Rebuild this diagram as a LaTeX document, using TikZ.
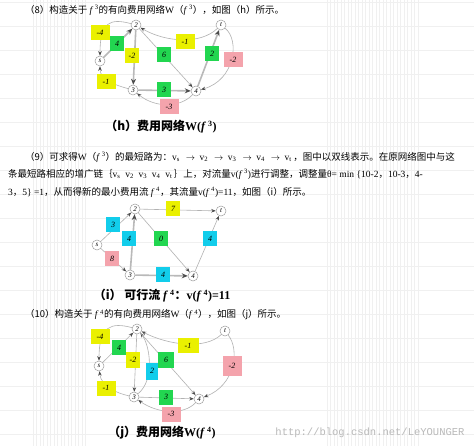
\documentclass[tikz,border=0pt]{standalone}
\usepackage{fontspec}
\setmainfont{Liberation Serif}
\newfontfamily\cjk{Noto Sans CJK SC}
\newfontfamily\wmfont{Liberation Mono}
\usetikzlibrary{arrows.meta}
\definecolor{yelc}{HTML}{EAF000}
\definecolor{grnc}{HTML}{22D650}
\definecolor{cyac}{HTML}{12CDEB}
\definecolor{pnkc}{HTML}{F4A3AC}
\newcommand\ff[1]{\textit{f}\,\textsuperscript{#1}}
\newcommand\rarr{\hspace{6pt}$\rightarrow$\hspace{4.5pt}}
\begin{document}
\begin{tikzpicture}[x=1pt,y=-1pt,
  vtx/.style={circle,draw=gray!75,fill=white,line width=0.5pt,inner sep=0pt,minimum size=10pt,font=\fontsize{7}{7}\selectfont\itshape},
  lbl/.style={rectangle,inner sep=0pt,minimum width=14pt,minimum height=15pt,font=\fontsize{8}{8}\selectfont\itshape},
  yel/.style={lbl,fill=yelc},
  grn/.style={lbl,fill=grnc},
  cya/.style={lbl,fill=cyac},
  pnk/.style={lbl,fill=pnkc},
  wide/.style={minimum width=19pt},
  arc/.style={draw=gray!60,line width=0.6pt,-{Stealth[length=4.5pt,width=3.5pt,color=black!70]}},
  thk/.style={draw=gray!55,line width=1.6pt,-{Stealth[length=6pt,width=5pt,color=black!70]}},
  body/.style={anchor=west,inner sep=0pt,font=\fontsize{9.5}{11}\selectfont},
  captxt/.style={inner sep=0pt,font=\fontsize{12}{14}\selectfont\bfseries},
  bgline/.style={draw=gray!12,line width=0.3pt}
]
\useasboundingbox (0,0) rectangle (474,446);
\fill[white] (0,0) rectangle (474,446);
% faint background paper texture
\foreach \yy in {2,26,...,446} \draw[bgline] (0,\yy) -- (474,\yy);
\foreach \xx in {33,36.5,...,88} \draw[bgline] (\xx,0) -- (\xx,446);
\foreach \xx in {327,330.5,...,420} \draw[bgline] (\xx,0) -- (\xx,446);

% ---------- text (8)
\node[body] (t8) at (25,10) {{\cjk （8）构造关于 }\ff3{\cjk 的有向费用网络}W{\cjk （}\ff3{\cjk ），如图（h）所示。}};

% ---------- figure h
\node[vtx] (h2) at (136,25) {2};
\node[vtx] (ht) at (221,25) {t};
\node[vtx] (hs) at (100,61) {s};
\node[vtx] (h3) at (133,90) {3};
\node[vtx] (h4) at (196,91) {4};
\draw[arc] (h2) .. controls (110,18) and (100,22) .. (hs);
\draw[thk] (hs) -- (h2);
\draw[thk] (h2) -- (h3);
\draw[arc] (h2) -- (h4);
\draw[arc] (ht) .. controls (200,45) and (165,42) .. (h2);
\draw[thk] (h4) -- (ht);
\draw[arc] (ht) .. controls (240,40) and (235,80) .. (h4);
\draw[arc] (h3) .. controls (115,85) and (100,80) .. (hs);
\draw[thk] (h3) -- (h4);
\draw[arc] (h4) .. controls (180,108) and (155,108) .. (h3);
\node[yel,wide] (hl1) at (100,33) {-4};
\node[grn] (hl2) at (117,44) {4};
\node[yel] (hl3) at (132,56) {-2};
\node[grn] (hl4) at (164,55) {6};
\node[yel,wide] (hl5) at (185,42) {-1};
\node[grn] (hl6) at (212,54) {2};
\node[pnk,wide] (hl7) at (233,60) {-2};
\node[yel,wide] (hl8) at (106,82) {-1};
\node[grn] (hl9) at (164,90) {3};
\node[pnk,wide] (hl10) at (169,107) {-3};
\node[captxt] (hcap) at (161,127) {{\cjk （h）费用网络}W(\ff3)};

% ---------- text (9)
\node[body] (t9a) at (25,157) {{\cjk （9）可求得}W{\cjk （}\ff3{\cjk ）的最短路为：}v\textsubscript{s}\rarr v\textsubscript{2}\rarr v\textsubscript{3}\rarr v\textsubscript{4}\rarr v\textsubscript{t}\,{\cjk ，图中以双线表示。在原网络图中与这}};
\node[body] (t9b) at (8,174) {{\cjk 条最短路相应的增广链｛}v\textsubscript{s}\enspace v\textsubscript{2}\enspace v\textsubscript{3}\enspace v\textsubscript{4}\enspace v\textsubscript{t}\,{\cjk ｝上，对流量}v(\ff3){\cjk 进行调整，调整量}θ= min \{10-2{\cjk ，}10-3{\cjk ，}4-};
\node[body] (t9c) at (8,192) {3{\cjk ，}5\} =1{\cjk ，从而得新的最小费用流 }\ff4{\cjk ，其流量}v(\ff4)=11{\cjk ，如图（i）所示。}};

% ---------- figure i
\node[vtx] (i2) at (135,209) {2};
\node[vtx] (it) at (221,211) {t};
\node[vtx] (is) at (97,245) {s};
\node[vtx] (i3) at (130,275) {3};
\node[vtx] (i4) at (193,276) {4};
\draw[arc] (is) -- (i2);
\draw[thk] (i3) -- (i2);
\draw[arc] (i2) -- (it);
\draw[arc] (i2) -- (i4);
\draw[arc] (i4) -- (it);
\draw[arc] (is) -- (i3);
\draw[thk] (i3) -- (i4);
\node[yel] (il1) at (173,209) {7};
\node[cya] (il2) at (113,225) {3};
\node[cya] (il3) at (129,239) {4};
\node[grn] (il4) at (161,239) {0};
\node[cya] (il5) at (210,239) {4};
\node[pnk] (il6) at (112,259) {8};
\node[cya] (il7) at (163,275) {4};
\node[captxt] (icap) at (162,296) {{\cjk （i） 可行流 }\ff4{\cjk ：}v(\ff4)=11};

% ---------- text (10)
\node[body] (t10) at (25,315) {{\cjk （10）构造关于 }\ff4{\cjk 的有向费用网络}W{\cjk （}\ff4{\cjk ），如图（j）所示。}};

% ---------- figure j
\node[vtx] (j2) at (137,329) {2};
\node[vtx] (jt) at (225,331) {t};
\node[vtx] (js) at (99,366) {s};
\node[vtx] (j3) at (134,397) {3};
\node[vtx] (j4) at (199,399) {4};
\draw[arc] (j2) .. controls (111,322) and (99,326) .. (js);
\draw[arc] (js) -- (j2);
\draw[arc] (j2) -- (j3);
\draw[arc] (j3) .. controls (155,380) and (150,345) .. (j2);
\draw[arc] (j2) -- (j4);
\draw[arc] (jt) .. controls (205,350) and (168,345) .. (j2);
\draw[arc] (jt) .. controls (240,350) and (235,385) .. (j4);
\draw[arc] (j3) .. controls (116,393) and (101,386) .. (js);
\draw[arc] (j3) -- (j4);
\draw[arc] (j4) .. controls (184,415) and (158,414) .. (j3);
\node[yel,wide] (jl1) at (100,337) {-4};
\node[grn] (jl2) at (119,348) {4};
\node[yel] (jl3) at (133,360) {-2};
\node[cya,minimum width=12pt,minimum height=17pt] (jl4) at (152,371) {2};
\node[grn,minimum width=16pt] (jl5) at (166,360) {6};
\node[yel,wide,minimum width=21pt] (jl6) at (188,346) {-1};
\node[pnk,wide,minimum height=19pt] (jl7) at (232,366) {-2};
\node[yel,wide] (jl8) at (106,388) {-1};
\node[grn] (jl9) at (166,397) {3};
\node[pnk,wide] (jl10) at (171,414) {-3};
\node[captxt] (jcap) at (162,433) {{\cjk （j）费用网络}W(\ff4)};

\node[inner sep=0pt,font=\wmfont\fontsize{10.5}{12}\selectfont,text=gray!55] (wm) at (370,433) {http://blog.csdn.net/LeYOUNGER};
\end{tikzpicture}
\end{document}
